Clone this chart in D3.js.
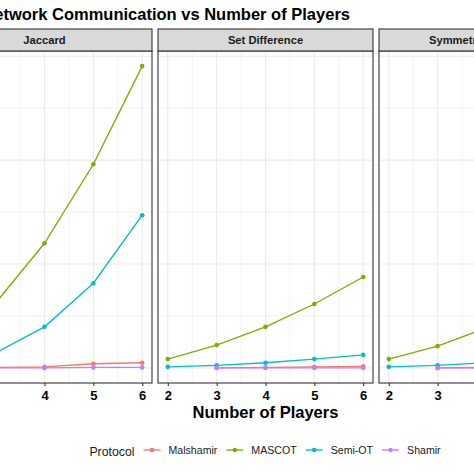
<!DOCTYPE html>
<meta charset="utf-8">
<script src="https://d3js.org/d3.v7.min.js"></script>
<title>Network Communication vs Number of Players</title>
<style>
body { margin: 0; background: #fff; }
svg { font-family: "Liberation Sans", Arial, sans-serif; display: block; }
</style>
<svg width="474" height="474"></svg>
<script>

// data (y in arbitrary units, gridline = 1 unit)
var players = [2, 3, 4, 5, 6];
var facets = ["Jaccard", "Set Difference", "Symmetric Difference"];
var protocols = ["Malshamir", "MASCOT", "Semi-OT", "Shamir"];
var colors = ["#F8766D", "#7CAE00", "#00BFC4", "#C77CFF"];

var jaccardMalshamir = [null, 0.01, 0.02, 0.08, 0.10];
var jaccardMascot    = [0.47, 1.25, 2.40, 3.92, 5.81];
var jaccardSemiOT    = [0.05, 0.29, 0.79, 1.63, 2.94];
var jaccardShamir    = [null, 0.00, 0.00, 0.01, 0.01];

var setDiffMalshamir = [null, 0.00, 0.01, 0.02, 0.03];
var setDiffMascot    = [0.17, 0.44, 0.79, 1.23, 1.75];
var setDiffSemiOT    = [0.02, 0.05, 0.10, 0.17, 0.25];
var setDiffShamir    = [null, 0.00, 0.00, 0.00, 0.00];

var symDiffMalshamir = [null, 0.00, 0.01, 0.02, 0.03];
var symDiffMascot    = [0.17, 0.42, 0.77, 1.20, 1.71];
var symDiffSemiOT    = [0.02, 0.05, 0.10, 0.16, 0.24];
var symDiffShamir    = [null, 0.00, 0.00, 0.00, 0.00];

var yMajor = [0, 2, 4, 6], yMinor = [1, 3, 5];
var xMinor = [2.5, 3.5, 4.5, 5.5];

var table = [
  [jaccardMalshamir, jaccardMascot, jaccardSemiOT, jaccardShamir],
  [setDiffMalshamir, setDiffMascot, setDiffSemiOT, setDiffShamir],
  [symDiffMalshamir, symDiffMascot, symDiffSemiOT, symDiffShamir]
];

var svg = d3.select("svg");
var panelW = 215, gap = 6, firstLeft = -63;
var pTop = 51, pBottom = 383, stripH = 22;

var allVals = [];
table.forEach(f => f.forEach(s => s.forEach(v => { if (v != null) allVals.push(v); })));
var ext = d3.extent(allVals), span = ext[1] - ext[0];
var y = d3.scaleLinear()
    .domain([ext[0] - 0.05 * span, ext[1] + 0.05 * span])
    .range([pBottom, pTop]);

var line = d3.line()
    .defined(d => d.v != null)
    .x(d => d.x)
    .y(d => y(d.v));

// title
svg.append("text")
    .attr("x", 350).attr("y", 20)
    .attr("text-anchor", "end")
    .attr("font-weight", "bold")
    .attr("font-size", 16.5)
    .attr("fill", "#000")
    .text("Network Communication vs Number of Players");

facets.forEach(function(name, fi) {
  var left = firstLeft + fi * (panelW + gap);
  var x = d3.scaleLinear().domain([1.8, 6.2]).range([left, left + panelW]);
  var g = svg.append("g");

  g.append("rect")
      .attr("x", left).attr("y", pTop)
      .attr("width", panelW).attr("height", pBottom - pTop)
      .attr("fill", "#fff");

  // grid
  g.selectAll(".ymin").data(yMinor).join("line")
      .attr("x1", left).attr("x2", left + panelW)
      .attr("y1", d => y(d)).attr("y2", d => y(d))
      .attr("stroke", "#ebebeb").attr("stroke-width", 0.6);
  g.selectAll(".xmin").data(xMinor).join("line")
      .attr("y1", pTop).attr("y2", pBottom)
      .attr("x1", d => x(d)).attr("x2", d => x(d))
      .attr("stroke", "#ebebeb").attr("stroke-width", 0.6);
  g.selectAll(".ymaj").data(yMajor).join("line")
      .attr("x1", left).attr("x2", left + panelW)
      .attr("y1", d => y(d)).attr("y2", d => y(d))
      .attr("stroke", "#ebebeb").attr("stroke-width", 1.1);
  g.selectAll(".xmaj").data(players).join("line")
      .attr("y1", pTop).attr("y2", pBottom)
      .attr("x1", d => x(d)).attr("x2", d => x(d))
      .attr("stroke", "#ebebeb").attr("stroke-width", 1.1);

  var series = table[fi].map((vals, si) => ({
    color: colors[si],
    pts: vals.map((v, i) => ({ x: x(players[i]), v: v }))
  }));

  // lines first, then points (as ggplot does)
  series.forEach(s => {
    g.append("path")
        .datum(s.pts)
        .attr("d", line)
        .attr("fill", "none")
        .attr("stroke", s.color)
        .attr("stroke-width", 1.35);
  });
  series.forEach(s => {
    g.selectAll(null).data(s.pts.filter(d => d.v != null)).join("circle")
        .attr("cx", d => d.x).attr("cy", d => y(d.v))
        .attr("r", 2.3)
        .attr("fill", s.color);
  });

  // panel border
  g.append("rect")
      .attr("x", left).attr("y", pTop)
      .attr("width", panelW).attr("height", pBottom - pTop)
      .attr("fill", "none").attr("stroke", "#333").attr("stroke-width", 1.1);

  // strip
  g.append("rect")
      .attr("x", left).attr("y", pTop - stripH)
      .attr("width", panelW).attr("height", stripH)
      .attr("fill", "#d9d9d9").attr("stroke", "#333").attr("stroke-width", 1.1);
  g.append("text")
      .attr("x", left + panelW / 2).attr("y", pTop - stripH / 2 + 4)
      .attr("text-anchor", "middle")
      .attr("font-weight", "bold").attr("font-size", 11.2)
      .attr("fill", "#1a1a1a")
      .text(name);

  // x axis
  var ax = g.append("g")
      .attr("transform", "translate(0," + pBottom + ")")
      .call(d3.axisBottom(x).tickValues(players).tickFormat(d3.format("d")).tickSize(3).tickPadding(5));
  ax.select(".domain").remove();
  ax.selectAll(".tick line").attr("stroke", "#333").attr("stroke-width", 1.1);
  ax.selectAll(".tick text")
      .attr("font-family", "Liberation Sans, Arial, sans-serif")
      .attr("font-size", 13).attr("font-weight", "bold").attr("fill", "#000");
});

// x axis title
svg.append("text")
    .attr("x", firstLeft + panelW * 1.5 + gap).attr("y", 418)
    .attr("text-anchor", "middle")
    .attr("font-weight", "bold").attr("font-size", 16.5)
    .attr("fill", "#000")
    .text("Number of Players");

// legend
var legend = svg.append("g");
var lx = 0, ly = 450;
var lt = legend.append("text")
    .attr("x", 0).attr("y", ly + 5.5)
    .attr("font-size", 12.3).attr("fill", "#1a1a1a")
    .text("Protocol");
lx = lt.node().getComputedTextLength() + 9;
protocols.forEach(function(p, i) {
  legend.append("line")
      .attr("x1", lx).attr("x2", lx + 17)
      .attr("y1", ly).attr("y2", ly)
      .attr("stroke", colors[i]).attr("stroke-width", 1.35);
  legend.append("circle")
      .attr("cx", lx + 8.5).attr("cy", ly).attr("r", 2.3)
      .attr("fill", colors[i]);
  lx += 17 + 8;
  var t = legend.append("text")
      .attr("x", lx).attr("y", ly + 4)
      .attr("font-size", 10.6).attr("fill", "#1a1a1a")
      .text(p);
  lx += t.node().getComputedTextLength() + 9;
});
lx -= 9;
legend.attr("transform", "translate(" + (265 - lx / 2) + ",0)");

</script>
